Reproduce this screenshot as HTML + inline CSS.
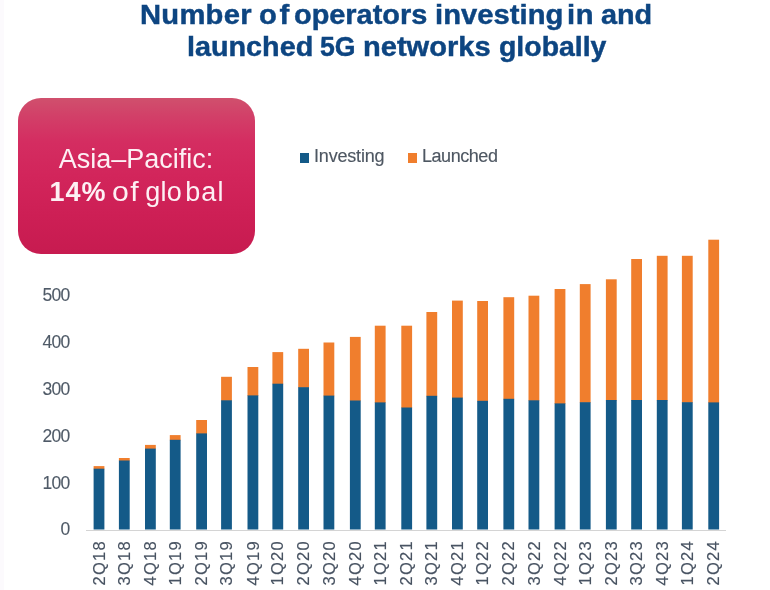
<!DOCTYPE html>
<html><head><meta charset="utf-8"><style>
html,body{margin:0;padding:0;background:#fff;width:770px;height:590px;overflow:hidden;position:relative}
#w{position:absolute;left:0;top:0;width:770px;height:590px;filter:blur(0.4px)}
body{font-family:"Liberation Sans",Arial,sans-serif}
.t span{position:absolute;top:0;transform-origin:0 0}
.t{position:absolute;left:0;width:770px;height:30px;color:#0d4581;font-weight:bold;font-size:27px;line-height:27px;white-space:nowrap;letter-spacing:0.72px;-webkit-text-stroke:0.45px #0d4581}
.box{position:absolute;left:17.5px;top:97.8px;width:237px;height:156.2px;border-radius:23px;
background:linear-gradient(180deg,#d0506d 0%,#d23f68 12%,#d42d61 28%,#d2255b 50%,#cd1f55 75%,#c71b50 100%)}
.bt{position:absolute;left:0;width:237px;text-align:center;color:#fdf0f4;font-size:27px;line-height:27px;white-space:nowrap}
.lg{position:absolute;top:147px;font-size:18px;line-height:18px;color:#4e5762;letter-spacing:-0.25px;white-space:nowrap;-webkit-text-stroke:0.15px #4e5762}
.sq{position:absolute;width:9px;height:10px}
.b{position:absolute;width:10.8px}
.o{background:#f07e2d}
.v{background:#145a88}
.axis{position:absolute;left:86px;top:530px;width:640px;height:1px;background:#d4d4d4}
.xl{position:absolute;top:540.4px;writing-mode:vertical-rl;transform:rotate(180deg);font-size:16.5px;line-height:16px;width:16px;color:#485362;white-space:nowrap;letter-spacing:1.3px;-webkit-text-stroke:0.15px #485362}
.yl{position:absolute;right:700.4px;font-size:17.5px;line-height:18px;letter-spacing:-0.7px;color:#4f5a67;transform:translateY(-50%);-webkit-text-stroke:0.1px #4f5a67}
</style></head><body><div id="w">
<div style="position:absolute;left:0;top:0;width:4px;height:590px;background:#fcfafd"></div>
<div class="t" style="top:2px"><span style="left:139.9px;letter-spacing:0.244px;transform:scaleX(1.08)">Number</span> <span style="left:258.9px;letter-spacing:2.5px;transform:scaleX(1.08)">of</span> <span style="left:293.7px;letter-spacing:0.0px;transform:scaleX(1.07)">operators</span> <span style="left:434.5px;letter-spacing:0.046px;transform:scaleX(1.08)">investing</span> <span style="left:566.7px;letter-spacing:0.574px;transform:scaleX(1.08)">in</span> <span style="left:601.3px;letter-spacing:0.0px;transform:scaleX(1.067)">and</span></div>
<div class="t" style="top:33.5px"><span style="left:186.6px;letter-spacing:0.0px;transform:scaleX(1.065)">launched</span> <span style="left:319.9px;letter-spacing:0.0px;transform:scaleX(0.985)">5G</span> <span style="left:362.7px;letter-spacing:-0.0px;transform:scaleX(1.076)">networks</span> <span style="left:498.5px;letter-spacing:0.0px;transform:scaleX(1.053)">globally</span></div>
<div class="box">
<div class="bt" style="top:48.5px">Asia–Pacific:</div>
<div class="bt" style="top:80.8px;text-align:left"><b style="position:absolute;left:32px;letter-spacing:1px">14%</b> <span style="position:absolute;left:94.8px;letter-spacing:1.2px;transform:scaleX(1.12);transform-origin:0 0">of</span> <span style="position:absolute;left:127.8px;letter-spacing:0.2px">glo<span style="margin-left:3.2px;letter-spacing:1.2px">bal</span></span></div>
</div>
<div class="sq" style="left:300.2px;top:153.3px;background:#145a88"></div>
<div class="lg" style="left:314px;letter-spacing:-0.18px">Investing</div>
<div class="sq" style="left:408.2px;top:153.3px;background:#f07e2d"></div>
<div class="lg" style="left:422px;letter-spacing:-0.45px">Launched</div>
<div class="yl" style="top:529.4px">0</div>
<div class="yl" style="top:482.5px">100</div>
<div class="yl" style="top:435.6px">200</div>
<div class="yl" style="top:388.7px">300</div>
<div class="yl" style="top:341.8px">400</div>
<div class="yl" style="top:294.9px">500</div>
<svg width="770" height="590" style="position:absolute;left:0;top:0"><rect x="86" y="530" width="640" height="1" fill="#d4d4d4"/><rect x="93.60" y="466.10" width="10.8" height="3.20" fill="#f07e2d"/><rect x="93.60" y="468.70" width="10.8" height="60.80" fill="#145a88"/><rect x="118.90" y="458.00" width="10.8" height="3.10" fill="#f07e2d"/><rect x="118.90" y="460.50" width="10.8" height="69.00" fill="#145a88"/><rect x="145.00" y="444.90" width="10.8" height="4.30" fill="#f07e2d"/><rect x="145.00" y="448.60" width="10.8" height="80.90" fill="#145a88"/><rect x="169.80" y="435.10" width="10.8" height="5.30" fill="#f07e2d"/><rect x="169.80" y="439.80" width="10.8" height="89.70" fill="#145a88"/><rect x="196.20" y="420.00" width="10.8" height="14.00" fill="#f07e2d"/><rect x="196.20" y="433.40" width="10.8" height="96.10" fill="#145a88"/><rect x="221.10" y="376.80" width="10.8" height="24.10" fill="#f07e2d"/><rect x="221.10" y="400.30" width="10.8" height="129.20" fill="#145a88"/><rect x="247.50" y="367.00" width="10.8" height="29.00" fill="#f07e2d"/><rect x="247.50" y="395.40" width="10.8" height="134.10" fill="#145a88"/><rect x="272.40" y="352.10" width="10.8" height="32.20" fill="#f07e2d"/><rect x="272.40" y="383.70" width="10.8" height="145.80" fill="#145a88"/><rect x="298.20" y="348.80" width="10.8" height="39.00" fill="#f07e2d"/><rect x="298.20" y="387.20" width="10.8" height="142.30" fill="#145a88"/><rect x="323.50" y="342.50" width="10.8" height="53.70" fill="#f07e2d"/><rect x="323.50" y="395.60" width="10.8" height="133.90" fill="#145a88"/><rect x="349.90" y="336.90" width="10.8" height="64.20" fill="#f07e2d"/><rect x="349.90" y="400.50" width="10.8" height="129.00" fill="#145a88"/><rect x="374.80" y="325.70" width="10.8" height="77.30" fill="#f07e2d"/><rect x="374.80" y="402.40" width="10.8" height="127.10" fill="#145a88"/><rect x="401.30" y="325.70" width="10.8" height="82.40" fill="#f07e2d"/><rect x="401.30" y="407.50" width="10.8" height="122.00" fill="#145a88"/><rect x="426.40" y="312.00" width="10.8" height="84.40" fill="#f07e2d"/><rect x="426.40" y="395.80" width="10.8" height="133.70" fill="#145a88"/><rect x="452.00" y="300.60" width="10.8" height="97.60" fill="#f07e2d"/><rect x="452.00" y="397.60" width="10.8" height="131.90" fill="#145a88"/><rect x="477.20" y="301.00" width="10.8" height="100.40" fill="#f07e2d"/><rect x="477.20" y="400.80" width="10.8" height="128.70" fill="#145a88"/><rect x="503.40" y="297.20" width="10.8" height="102.20" fill="#f07e2d"/><rect x="503.40" y="398.80" width="10.8" height="130.70" fill="#145a88"/><rect x="528.50" y="295.70" width="10.8" height="105.20" fill="#f07e2d"/><rect x="528.50" y="400.30" width="10.8" height="129.20" fill="#145a88"/><rect x="554.60" y="289.00" width="10.8" height="115.00" fill="#f07e2d"/><rect x="554.60" y="403.40" width="10.8" height="126.10" fill="#145a88"/><rect x="579.80" y="284.10" width="10.8" height="118.70" fill="#f07e2d"/><rect x="579.80" y="402.20" width="10.8" height="127.30" fill="#145a88"/><rect x="605.90" y="279.30" width="10.8" height="121.30" fill="#f07e2d"/><rect x="605.90" y="400.00" width="10.8" height="129.50" fill="#145a88"/><rect x="631.20" y="259.00" width="10.8" height="141.60" fill="#f07e2d"/><rect x="631.20" y="400.00" width="10.8" height="129.50" fill="#145a88"/><rect x="656.80" y="255.80" width="10.8" height="144.80" fill="#f07e2d"/><rect x="656.80" y="400.00" width="10.8" height="129.50" fill="#145a88"/><rect x="681.90" y="255.80" width="10.8" height="147.00" fill="#f07e2d"/><rect x="681.90" y="402.20" width="10.8" height="127.30" fill="#145a88"/><rect x="708.30" y="239.70" width="10.8" height="163.30" fill="#f07e2d"/><rect x="708.30" y="402.40" width="10.8" height="127.10" fill="#145a88"/></svg>
<div class="xl" style="left:90.6px">2Q18</div>
<div class="xl" style="left:115.9px">3Q18</div>
<div class="xl" style="left:142.0px">4Q18</div>
<div class="xl" style="left:166.8px">1Q19</div>
<div class="xl" style="left:193.2px">2Q19</div>
<div class="xl" style="left:218.1px">3Q19</div>
<div class="xl" style="left:244.5px">4Q19</div>
<div class="xl" style="left:269.4px">1Q20</div>
<div class="xl" style="left:295.2px">2Q20</div>
<div class="xl" style="left:320.5px">3Q20</div>
<div class="xl" style="left:346.9px">4Q20</div>
<div class="xl" style="left:371.8px">1Q21</div>
<div class="xl" style="left:398.3px">2Q21</div>
<div class="xl" style="left:423.4px">3Q21</div>
<div class="xl" style="left:449.0px">4Q21</div>
<div class="xl" style="left:474.2px">1Q22</div>
<div class="xl" style="left:500.4px">2Q22</div>
<div class="xl" style="left:525.5px">3Q22</div>
<div class="xl" style="left:551.6px">4Q22</div>
<div class="xl" style="left:576.8px">1Q23</div>
<div class="xl" style="left:602.9px">2Q23</div>
<div class="xl" style="left:628.2px">3Q23</div>
<div class="xl" style="left:653.8px">4Q23</div>
<div class="xl" style="left:678.9px">1Q24</div>
<div class="xl" style="left:705.3px">2Q24</div>
</div></body></html>
